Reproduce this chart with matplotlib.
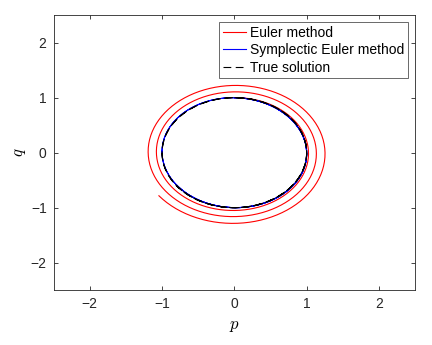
import numpy as np
import matplotlib
matplotlib.use("Agg")
import matplotlib.pyplot as plt

# step size, number of steps and starting point
h = 0.032
n_steps = 520
p0, q0 = 0.0, 1.0

axis_lim = [-2.5, 2.5]
ticks = [-2, -1, 0, 1, 2]
labels = ["Euler method", "Symplectic Euler method", "True solution"]


def euler(p, q):
    ps, qs = [p], [q]
    for _ in range(n_steps):
        p, q = p + h * q, q - h * p
        ps.append(p)
        qs.append(q)
    return np.array(ps), np.array(qs)


def symplectic_euler(p, q):
    ps, qs = [p], [q]
    for _ in range(n_steps):
        p = p + h * q
        q = q - h * p
        ps.append(p)
        qs.append(q)
    return np.array(ps), np.array(qs)


t = np.arange(n_steps + 1) * h
p_true, q_true = p0 * np.cos(t) + q0 * np.sin(t), q0 * np.cos(t) - p0 * np.sin(t)
p_eu, q_eu = euler(p0, q0)
p_se, q_se = symplectic_euler(p0, q0)

plt.rcParams['font.family'] = ['Liberation Sans', 'DejaVu Sans']
plt.rcParams['mathtext.fontset'] = 'cm'

fig = plt.figure(figsize=(4.32, 3.45), dpi=100)
ax = fig.add_axes([0.124, 0.159, 0.837, 0.797])
ax.plot(p_eu, q_eu, color='red', lw=0.8, label=labels[0])
ax.plot(p_se, q_se, color='blue', lw=0.8, label=labels[1])
ax.plot(p_true, q_true, color='black', lw=0.8, ls=(0, (7, 4)), label=labels[2])

ax.set_xlim(axis_lim)
ax.set_ylim(axis_lim)
ax.set_xticks(ticks)
ax.set_yticks(ticks)
ax.tick_params(direction='in', length=3, width=0.6, top=True, right=True,
               labelsize=10, colors='#262626', pad=5)
for s in ax.spines.values():
    s.set_color('#262626')
    s.set_linewidth(0.6)
ax.set_xlabel('$p$', fontsize=12, labelpad=6)
ax.set_ylabel('$q$', fontsize=12, labelpad=2)

leg = ax.legend(loc='upper right', fontsize=10, handlelength=1.7, handletextpad=0.3,
                labelspacing=0.25, borderpad=0.25, borderaxespad=0.5, fancybox=False)
leg.get_frame().set_edgecolor('#262626')
leg.get_frame().set_linewidth(0.6)

fig.savefig('out.png', dpi=100)
